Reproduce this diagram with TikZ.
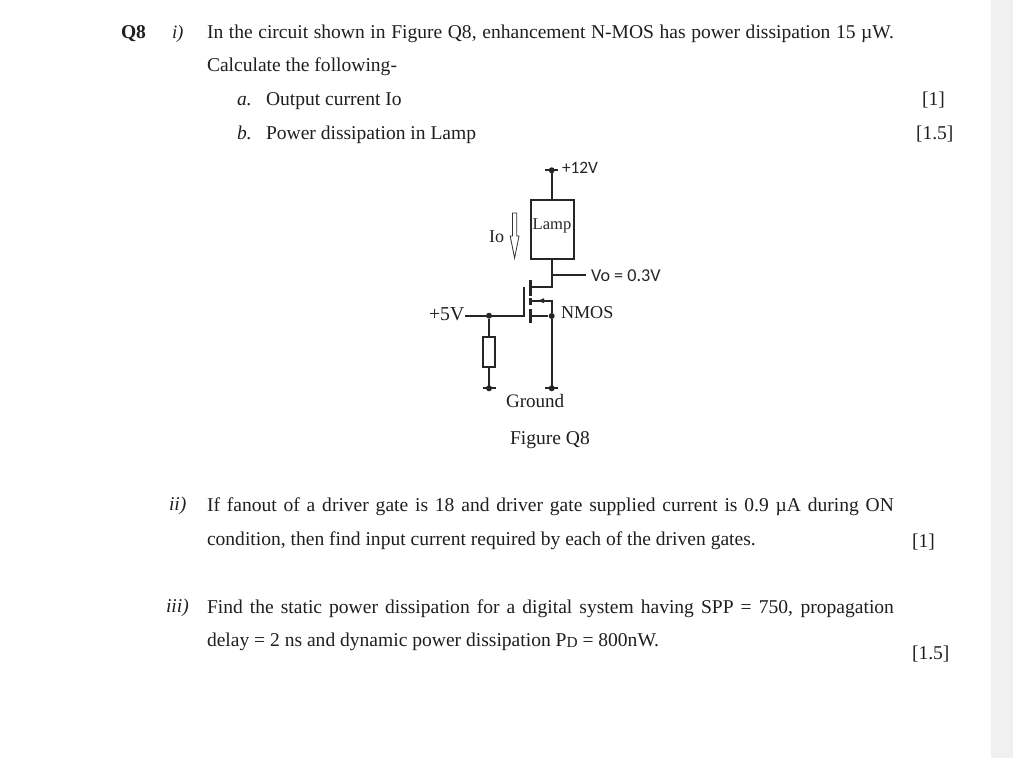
\documentclass[tikz,border=0pt]{standalone}
\usepackage{fontspec}
\setmainfont{Liberation Serif}
\newfontfamily\carl{Carlito}
\usetikzlibrary{arrows.meta}
\newcommand{\fs}{\fontsize{14.66pt}{16pt}\selectfont}
\newcommand{\jl}[2]{\makebox[#1][s]{#2}}
\tikzset{
  x=0.75pt,y=-0.75pt,
  txt/.style={anchor=base west,inner sep=0pt,outer sep=0pt,font=\fs,text=black!88},
  sf/.style={anchor=base west,inner sep=0pt,outer sep=0pt,font=\carl\fontsize{13pt}{15pt}\selectfont,text=black!85},
  wire/.style={draw=black!85,line width=1.55pt},
  thin wire/.style={draw=black!85,line width=0.8pt},
  plate/.style={draw=black!85,line width=2.6pt},
  boxs/.style={draw=black!85,line width=1.55pt,fill=white,inner sep=0pt,minimum width=#1},
  junction/.style={circle,fill=black!85,inner sep=0pt,minimum size=4.5pt},
}
\begin{document}
\begin{tikzpicture}
\useasboundingbox (0,0) rectangle (1013,758);
\fill[white] (0,0) rectangle (1013,758);
\fill[gray!12!white] (991,0) rectangle (1013,758);
% text
\node[txt,font=\fs\bfseries] (q8) at (121,38) {Q8};
\node[txt,font=\fontsize{14.1pt}{16pt}\selectfont\itshape] (i1) at (172,38) {i)};
\node[txt] (l1) at (207,38) {\jl{515.2pt}{In the circuit shown in Figure Q8, enhancement N-MOS has power dissipation 15 µW.}};
\node[txt] (l2) at (207,71) {Calculate the following-};
\node[txt,font=\fs\itshape] (ia) at (237,105) {a.};
\node[txt] (l3) at (266,105) {Output current Io};
\node[txt] (m1) at (922,105) {[1]};
\node[txt,font=\fs\itshape] (ib) at (237,139) {b.};
\node[txt] (l4) at (266,139) {Power dissipation in Lamp};
\node[txt] (m2) at (916,139) {[1.5]};
\node[txt] (fig) at (510,444) {Figure Q8};
\node[txt,font=\fs\itshape] (i2) at (169,510) {ii)};
\node[txt] (l5) at (207,511) {\jl{515.2pt}{If fanout of a driver gate is 18 and driver gate supplied current is 0.9 µA during ON}};
\node[txt] (l6) at (207,545) {condition, then find input current required by each of the driven gates.};
\node[txt] (m3) at (912,547) {[1]};
\node[txt,font=\fs\itshape] (i3) at (166,612) {iii)};
\node[txt] (l7) at (207,613) {\jl{515.2pt}{Find the static power dissipation for a digital system having SPP = 750, propagation}};
\node[txt] (l8) at (207,646) {delay = 2 ns and dynamic power dissipation P\raisebox{-0.2ex}{\fontsize{11.5pt}{13pt}\selectfont D} = 800nW.};
\node[txt] (m4) at (912,659) {[1.5]};
% circuit labels
\node[sf] (v12) at (562,173) {+12V};
\node[sf,font=\carl\fontsize{13.6pt}{15pt}\selectfont] (vo) at (591,281) {Vo = 0.3V};
\node[txt,font=\fontsize{13.5pt}{15pt}\selectfont] (io) at (489,242) {Io};
\node[txt,font=\fontsize{14.8pt}{17pt}\selectfont] (v5) at (429,320) {+5V};
\node[txt,font=\fontsize{13.6pt}{15pt}\selectfont] (nmos) at (561,318) {NMOS};
\node[txt,font=\fontsize{14.3pt}{16pt}\selectfont] (gnd) at (506,407) {Ground};
% coordinates
\coordinate (top) at (551.7,170.3);
\coordinate (topL) at (545,170.3);
\coordinate (topR) at (558,170.3);
\coordinate (voj) at (551.7,275);
\coordinate (voe) at (585.7,275);
\coordinate (dr) at (551.7,286.7);
\coordinate (drch) at (530.7,286.7);
\coordinate (bodyR) at (551.7,300.7);
\coordinate (bodyL) at (530.7,300.7);
\coordinate (srch) at (530.7,316);
\coordinate (gate) at (524,315.7);
\coordinate (gateT) at (524,287);
\coordinate (inL) at (465,315.7);
\coordinate (gnd2) at (551.7,388.3);
\coordinate (gnd2L) at (545,388.3);
\coordinate (gnd2R) at (558,388.3);
\coordinate (gnd1) at (489,388.3);
\coordinate (gnd1L) at (482.5,388.3);
\coordinate (gnd1R) at (495.5,388.3);
\node[boxs=32pt,minimum height=43.8pt,anchor=north west] (lamp) at (530.3,199.3) {};
\node[anchor=center,inner sep=0pt,font=\fontsize{12.4pt}{14pt}\selectfont,text=black!85] (lamplbl) at (552,225.5) {Lamp};
\node[junction] (jin) at (489,315.7) {};
\node[junction] (js) at (551.7,316) {};
\node[boxs=9pt,minimum height=22.5pt] (res) at (489,352) {};
% wires
\draw[wire] (topL) -- (topR);
\node[junction] (jtop) at (top) {};
\draw[wire] (top) -- (lamp.north -| top);
\draw[wire] (lamp.south -| top) -- (dr) -- (drch);
\draw[thin wire] (voj) -- (voe);
\draw[plate] (530.7,280) -- (530.7,296);
\draw[plate] (530.7,298) -- (530.7,305);
\draw[plate] (530.7,309) -- (530.7,322.7);
\draw[wire,line width=1.25pt] (gateT) -- (gate) -- (inL);
\draw[wire,line width=1.25pt] (bodyL) -- (bodyR) -- (js);
\draw[wire,line width=1.25pt] (srch) -- (js);
\draw[wire] (js) -- (gnd2);
\draw[wire] (gnd2L) -- (gnd2R);
\node[junction] (jg2) at (gnd2) {};
\draw[wire] (jin) -- (res.north);
\draw[wire] (res.south) -- (gnd1);
\draw[wire] (gnd1L) -- (gnd1R);
\node[junction] (jg1) at (gnd1) {};
\fill[black!85] (538,300.7) -- (544,298.2) -- (544,303.2) -- cycle;
% Io arrow
\draw[black!80,line width=0.6pt,fill=white] (512.4,213) -- (516.8,213) -- (516.8,236) -- (519,236) -- (514.6,258) -- (510.2,236) -- (512.4,236) -- cycle;
\end{tikzpicture}
\end{document}
